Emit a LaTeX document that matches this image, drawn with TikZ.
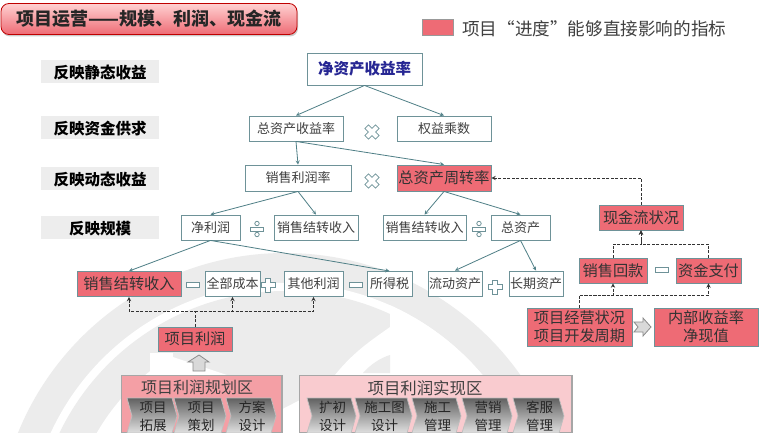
\documentclass[tikz,border=0pt]{standalone}
\usepackage{fontspec}
\setmainfont{Noto Sans CJK SC}
\usetikzlibrary{shadows}
\definecolor{boxline}{HTML}{6E9298}
\definecolor{linkline}{HTML}{4F7F86}
\definecolor{redfill}{HTML}{EE6B75}
\definecolor{darktext}{HTML}{404040}
\definecolor{markgray}{HTML}{ECECEC}
\tikzset{
    metric/.style={draw=boxline, line width=0.9pt, fill=white, text=darktext, inner sep=0pt, font=\fontsize{13}{15}\selectfont},
    redmetric/.style={draw=boxline, line width=0.9pt, fill=redfill, text=black!80, inner sep=0pt, align=center, font=\fontsize{15.2}{18}\selectfont},
    rowlabel/.style={fill=black!7, minimum width=118pt, minimum height=23pt, inner sep=0pt, text height=15pt, text depth=1pt, font=\bfseries\fontsize{15.5}{18}\selectfont},
    link/.style={draw=linkline, line width=0.8pt, -stealth},
    dashlink/.style={draw=black!80, line width=0.9pt, dash pattern=on 3pt off 1.5pt, ->},
    opmark/.style={draw=boxline, line width=0.8pt, fill=white},
    blockarrow/.style={draw=black!45, line width=0.8pt, fill=black!15},
    zone/.style={draw=black!35, line width=1.6pt},
    stagetext/.style={text=black!85, inner sep=0pt, align=center, font=\fontsize{13.5}{17.5}\selectfont},
    stagefill/.style={draw=black!25, line width=0.7pt, top color=black!62, bottom color=black!12},
    pics/opplus/.style={code={\draw[opmark] (-2.5,-7) -- (2.5,-7) -- (2.5,-2.5) -- (7,-2.5) -- (7,2.5) -- (2.5,2.5) -- (2.5,7) -- (-2.5,7) -- (-2.5,2.5) -- (-7,2.5) -- (-7,-2.5) -- (-2.5,-2.5) -- cycle;}},
    pics/optimes/.style={code={\draw[opmark,rotate=45] (-2.6,-7.5) -- (2.6,-7.5) -- (2.6,-2.6) -- (7.5,-2.6) -- (7.5,2.6) -- (2.6,2.6) -- (2.6,7.5) -- (-2.6,7.5) -- (-2.6,2.6) -- (-7.5,2.6) -- (-7.5,-2.6) -- (-2.6,-2.6) -- cycle;}},
    pics/opminus/.style={code={\draw[opmark] (-6.5,-2.5) rectangle (6.5,2.5);}},
    pics/opdiv/.style={code={
        \draw[opmark] (-6.5,-2) rectangle (6.5,2);
        \draw[opmark] (0,-5.5) circle (2.2);
        \draw[opmark] (0,5.5) circle (2.2);}},
}
\newcommand{\stagebox}[4]{%
    \shade[stagefill] (#2,398) -- (#3-5,398) -- (#3,416) -- (#3-5,433) -- (#2,433) -- (#2+5,416) -- cycle;
    \node[stagetext] (#1) at ({(#2+#3)/2+1},416.5) {#4};
}
\begin{document}
\begin{tikzpicture}[>=stealth, x=1pt, y=-1pt]
    \useasboundingbox (0,0) rectangle (760,433);
    \fill[white] (0,0) rectangle (760,433);

    \fill[markgray] (285,541) circle (288);
    \fill[white] (285,541) circle (258);
    \fill[markgray] (285,541) circle (250);
    \begin{scope}
        \clip (0,250) rectangle (150,433);
        \fill[white] (285,541) circle (217);
    \end{scope}
    \fill[white] (150,353) rectangle (173,433);
    \fill[white] (173,357) -- (236,378) -- (236,433) -- (173,433) -- cycle;
    \begin{scope}
        \clip (285,541) circle (258);
        \fill[white] (390,300) -- (560,300) -- (560,433) -- (236,433) -- (300,400) -- (335,375) .. controls (355,350) and (375,338) .. (390,327) -- cycle;
    \end{scope}
    \fill[markgray] (363,373) .. controls (370,365) and (380,358) .. (390,355) -- (390,373) -- cycle;

    \node[draw=red!75!black, line width=0.8pt, rounded corners=8pt, top color=red!18, bottom color=redfill, drop shadow={fill=black!40, shadow xshift=1pt, shadow yshift=-2pt},
        minimum width=296pt, minimum height=31pt, inner sep=0pt, font=\bfseries\fontsize{18}{20}\selectfont, text=black!85] (title) at (149,19) {项目运营——规模、利润、现金流};

    \node[draw=black!40, line width=0.8pt, fill=redfill, minimum width=31pt, minimum height=16pt, inner sep=0pt] (legendkey) at (437.5,27) {};
    \node[anchor=west, inner sep=0pt, text=darktext, font=\fontsize{17.6}{20}\selectfont] (legendtext) at (462,28.5) {项目“进度”能够直接影响的指标};

    \node[rowlabel] (rowstatic) at (100,71.5) {反映静态收益};
    \node[rowlabel] (rowfund) at (100,127.5) {反映资金供求};
    \node[rowlabel] (rowdynamic) at (100,178.5) {反映动态收益};
    \node[rowlabel] (rowscale) at (100,227) {反映规模};

    \node[metric, minimum width=115pt, minimum height=32pt, text=blue!50!black!85!white, font=\bfseries\fontsize{15.5}{18}\selectfont] (roe) at (364.5,69) {净资产收益率};
    \node[metric, minimum width=94pt, minimum height=25pt] (roa) at (296,128.5) {总资产收益率};
    \node[metric, minimum width=94pt, minimum height=25pt] (equity) at (444,128.5) {权益乘数};
    \node[metric, minimum width=106pt, minimum height=26pt] (margin) at (298,178) {销售利润率};
    \node[redmetric, minimum width=94pt, minimum height=26pt] (turnover) at (444,178) {总资产周转率};

    \node[metric, minimum width=59pt, minimum height=25pt] (netprofit) at (210.5,227.5) {净利润};
    \node[metric, minimum width=84pt, minimum height=25pt] (salesa) at (316,227.5) {销售结转收入};
    \node[metric, minimum width=83pt, minimum height=25pt] (salesb) at (424.5,227.5) {销售结转收入};
    \node[metric, minimum width=59pt, minimum height=25pt] (assets) at (520.5,227.5) {总资产};

    \node[redmetric, minimum width=104pt, minimum height=25pt] (salesred) at (129,284) {销售结转收入};
    \node[metric, minimum width=55pt, minimum height=25pt] (cost) at (232.5,284) {全部成本};
    \node[metric, minimum width=59pt, minimum height=25pt] (other) at (313.5,284) {其他利润};
    \node[metric, minimum width=45pt, minimum height=25pt] (tax) at (389.5,284) {所得税};
    \node[metric, minimum width=54pt, minimum height=25pt] (current) at (455,283.5) {流动资产};
    \node[metric, minimum width=54pt, minimum height=25pt] (longterm) at (536,283.5) {长期资产};

    \node[redmetric, minimum width=84pt, minimum height=25pt] (cash) at (641,217.5) {现金流状况};
    \node[redmetric, minimum width=68pt, minimum height=25pt] (receipt) at (613,270.5) {销售回款};
    \node[redmetric, minimum width=65pt, minimum height=25pt] (payment) at (708.5,270.5) {资金支付};
    \node[redmetric, minimum width=105pt, minimum height=38pt] (status) at (579.5,327) {项目经营状况\\项目开发周期};
    \node[redmetric, minimum width=104pt, minimum height=38pt] (irr) at (706,327) {内部收益率\\净现值};
    \node[redmetric, minimum width=74pt, minimum height=24pt] (profit) at (195,339) {项目利润};

    \draw[link] (roe.south) -- (roa.north);
    \draw[link] (roe.south) -- (equity.north);
    \draw[link] (roa.south) -- (margin.north);
    \draw[link] (roa.south) -- (turnover.north);
    \draw[link] (margin.south) -- (netprofit.north);
    \draw[link] (margin.south) -- (salesa.north);
    \draw[link] (turnover.south) -- (salesb.north);
    \draw[link] (turnover.south) -- (assets.north);
    \draw[link] (netprofit.south) -- (salesred.north);
    \draw[link] (netprofit.south) -- (tax.north);
    \draw[link] (assets.south) -- (current.north);
    \draw[link] (assets.south) -- (longterm.north);

    \coordinate (profitbus) at (195,311);
    \coordinate (cashbus) at (641,244);
    \coordinate (statusbus) at (579.5,295);
    \draw[dashlink] (profit.north) -- (profitbus) -| (salesred.south);
    \draw[dashlink] (profitbus) -| (cost.south);
    \draw[dashlink] (profitbus) -| (other.south);
    \draw[dashlink] (cash.north) |- (turnover.east);
    \draw[dashlink] (receipt.north) |- (cashbus) -- (cash.south);
    \draw[dashlink] (payment.north) |- (cashbus) -- (cash.south);
    \draw[dashlink] (status.north) -- (statusbus) -| (receipt.south);
    \draw[dashlink] (statusbus) -| (payment.south);

    \pic at (372,132) {optimes};
    \pic at (372,181) {optimes};
    \pic at (257,229) {opdiv};
    \pic at (479,229) {opdiv};
    \pic at (193,285) {opminus};
    \pic at (268,285) {opplus};
    \pic at (356,285) {opminus};
    \pic at (495,287) {opplus};
    \pic at (662,270) {opminus};

    \draw[blockarrow] (199,355) -- (209,362) -- (205,362) -- (205,371) -- (193,371) -- (193,362) -- (188,362) -- cycle;
    \draw[blockarrow] (651,327) -- (643,336) -- (643,332) -- (634,332) -- (638,327) -- (634,322) -- (643,322) -- (643,318) -- cycle;

    \draw[zone, fill=redfill!65!white] (121.5,375.5) rectangle (282,433);
    \draw[zone, fill=redfill!35!white] (299.5,375.5) rectangle (572,433);
    \node[inner sep=0pt, text=darktext, font=\fontsize{16}{18}\selectfont] (planarea) at (197,387) {项目利润规划区};
    \node[inner sep=0pt, text=darktext, font=\fontsize{16.4}{18}\selectfont] (realarea) at (425,388) {项目利润实现区};

    \stagebox{expand}{127}{177}{项目\\拓展}
    \stagebox{plan}{174}{226}{项目\\策划}
    \stagebox{scheme}{226}{276}{方案\\设计}
    \stagebox{prelim}{307}{356}{扩初\\设计}
    \stagebox{drawing}{355}{412}{施工图\\设计}
    \stagebox{build}{412}{461}{施工\\管理}
    \stagebox{market}{462}{512}{营销\\管理}
    \stagebox{service}{513}{564}{客服\\管理}
\end{tikzpicture}
\end{document}
